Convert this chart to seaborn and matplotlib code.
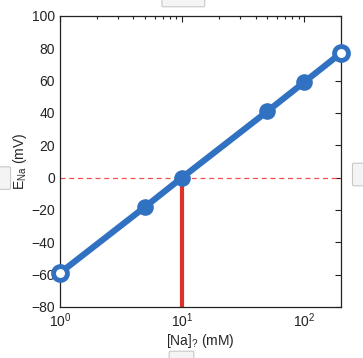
import matplotlib
matplotlib.use("Agg")
import matplotlib.pyplot as plt
import seaborn as sns
import pandas as pd
from matplotlib.patches import FancyBboxPatch

sns.set_style("white")
plt.rcParams['font.family'] = ['Liberation Sans', 'DejaVu Sans']
plt.rcParams['mathtext.fontset'] = 'custom'
plt.rcParams['mathtext.rm'] = 'Liberation Sans'
plt.rcParams['mathtext.it'] = 'Liberation Sans'

na_out = [1, 5, 10, 50, 100, 200]
e_na = [-59, -18, 0, 41, 59, 77]
open_points = [True, False, False, False, False, True]
x_ticks = [1, 10, 100]
x_tick_labels = [r'$10^{0}$', r'$10^{1}$', r'$10^{2}$']
y_ticks = [-80, -60, -40, -20, 0, 20, 40, 60, 80, 100]

df = pd.DataFrame({'na': na_out, 'e': e_na, 'open': open_points})
blue = '#3171c1'

fig = plt.figure(figsize=(3.63, 3.58), dpi=100)
ax = fig.add_axes([0.165, 0.1425, 0.774, 0.813])

ax.axhline(0, color='#f05050', lw=0.9, ls=(0, (4, 3)), zorder=1)
ax.plot([10, 10], [-80, 0], color='#e0302a', lw=3, zorder=2, solid_capstyle='butt')

sns.lineplot(data=df, x='na', y='e', ax=ax, color=blue, lw=4.5, zorder=3)
filled = df[~df['open']]
hollow = df[df['open']]
sns.scatterplot(data=filled, x='na', y='e', ax=ax, color=blue, s=120,
                edgecolor=blue, linewidth=1, zorder=4)
sns.scatterplot(data=hollow, x='na', y='e', ax=ax, color='white', s=100,
                edgecolor=blue, linewidth=3.5, zorder=4, clip_on=False)

ax.set_xscale('log')
ax.set_xlim(1, 200)
ax.set_ylim(-80, 100)
ax.set_xticks(x_ticks)
ax.set_xticklabels(x_tick_labels)
ax.set_yticks(y_ticks)
ax.tick_params(axis='both', which='both', direction='in', top=True, right=True,
               labelsize=10, colors='#222222', length=4, width=0.8)
ax.tick_params(axis='x', which='minor', length=2.5)
for s in ax.spines.values():
    s.set_color('#222222')
    s.set_linewidth(0.9)
ax.set_xlabel(r'[Na]$_{?}$ (mM)', fontsize=10, labelpad=1)
ax.set_ylabel(r'E$_{\mathrm{Na}}$ (mV)', fontsize=10, labelpad=2)
ax.grid(False)

# screenshot UI handles
for (x0, y0, w, h) in [(-0.02, 0.475, 0.045, 0.055), (0.975, 0.485, 0.045, 0.055),
                       (0.45, 0.985, 0.11, 0.03), (0.47, -0.015, 0.06, 0.03)]:
    fig.patches.append(FancyBboxPatch((x0, y0), w, h, boxstyle='round,pad=0.004',
                                      transform=fig.transFigure, facecolor='#f4f4f4',
                                      edgecolor='#c8c8c8', lw=0.8))

fig.savefig('out.png', dpi=100)
